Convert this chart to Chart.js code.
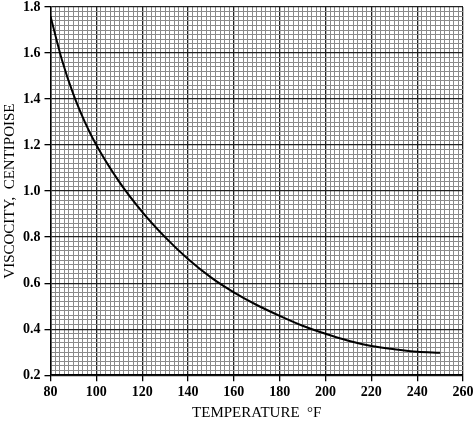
<!DOCTYPE html>
<html>
<head>
<meta charset="utf-8">
<script src="https://cdn.jsdelivr.net/npm/chart.js@4.4.1/dist/chart.umd.min.js"></script>
<style>
  html, body { margin: 0; padding: 0; background: #fff; }
  #wrap { width: 473px; height: 422px; }
</style>
</head>
<body>
<div id="wrap"><canvas id="viscChart" width="473" height="422"></canvas></div>
<script>
// temperature (deg F) and viscosity (centipoise)
const temps = [80, 85, 90, 95, 100, 110, 120, 130, 140, 150, 160, 170, 180, 190, 200, 210, 220, 230, 240, 250];
const visc = [1.76, 1.57, 1.42, 1.30, 1.20, 1.04, 0.91, 0.80, 0.705, 0.625, 0.56, 0.505, 0.458, 0.415, 0.38, 0.35, 0.327, 0.313, 0.302, 0.298];

const xMin = 80, xMax = 260, xMajor = 20, xMinor = 2;
const yMin = 0.2, yMax = 1.8, yMajor = 0.2, yMinor = 0.02;

const isMajor = (v, step) => Math.abs(v / step - Math.round(v / step)) < 1e-6;

const points = temps.map((t, i) => ({ x: t, y: visc[i] }));

const tickFont = { family: '"Liberation Serif", "Times New Roman", serif', size: 14, weight: 'bold' };
const titleFont = { family: '"Liberation Serif", "Times New Roman", serif', size: 15 };

const ctx = document.getElementById('viscChart').getContext('2d');

const viscChart = new Chart(ctx, {
  type: 'scatter',
  data: {
    datasets: [{
      data: points,
      showLine: true,
      borderColor: '#000',
      borderWidth: 2,
      pointRadius: 0,
      cubicInterpolationMode: 'monotone',
      fill: false
    }]
  },
  options: {
    responsive: false,
    animation: false,
    layout: { padding: { top: 0, right: 0, left: 1, bottom: 0 } },
    plugins: {
      legend: { display: false },
      tooltip: { enabled: false }
    },
    scales: {
      x: {
        type: 'linear',
        min: xMin,
        max: xMax,
        afterFit: s => { s.paddingRight = 10; },
        border: { display: true, color: '#000', width: 1.5 },
        grid: {
          color: c => isMajor(c.tick.value, xMajor) ? '#222' : '#8a8a8a',
          lineWidth: c => isMajor(c.tick.value, xMajor) ? 1.3 : 1,
          tickColor: c => isMajor(c.tick.value, xMajor) ? '#000' : 'rgba(0,0,0,0)',
          tickLength: 6
        },
        ticks: {
          stepSize: xMinor,
          autoSkip: false,
          maxRotation: 0,
          color: '#000',
          font: tickFont,
          padding: 3,
          callback: v => isMajor(v, xMajor) ? String(Math.round(v)) : ''
        },
        title: {
          display: true,
          text: 'TEMPERATURE  °F',
          color: '#000',
          font: titleFont,
          padding: { top: 0, bottom: 0 }
        }
      },
      y: {
        type: 'linear',
        min: yMin,
        max: yMax,
        afterFit: s => { s.paddingTop = 7; },
        border: { display: true, color: '#000', width: 1.5 },
        grid: {
          color: c => isMajor(c.tick.value, yMajor) ? '#222' : '#8a8a8a',
          lineWidth: c => isMajor(c.tick.value, yMajor) ? 1.3 : 1,
          tickColor: c => isMajor(c.tick.value, yMajor) ? '#000' : 'rgba(0,0,0,0)',
          tickLength: 6
        },
        ticks: {
          stepSize: yMinor,
          autoSkip: false,
          color: '#000',
          font: tickFont,
          padding: 4,
          callback: v => isMajor(v, yMajor) ? v.toFixed(1) : ''
        },
        title: {
          display: true,
          text: 'VISCOCITY,  CENTIPOISE',
          color: '#000',
          font: titleFont,
          padding: { top: 0, bottom: 0 }
        }
      }
    }
  }
});
</script>
</body>
</html>
